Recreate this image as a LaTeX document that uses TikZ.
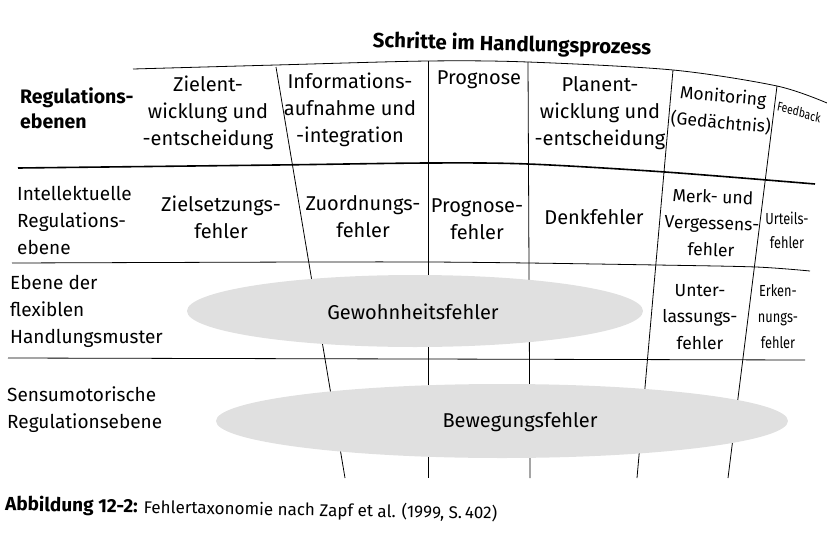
\documentclass[tikz,border=0pt]{standalone}
\usepackage{fontspec}
\setmainfont{Fira Sans}[Numbers=Lining]
\begin{document}
\begin{tikzpicture}[x=1pt, y=-1pt,
    txt/.style={align=center, inner sep=0pt, font=\fontsize{20}{27}\selectfont},
    mittel/.style={align=center, inner sep=0pt, font=\fontsize{17.5}{26.5}\selectfont},
    klein/.style={align=center, inner sep=0pt, xscale=0.8, font=\fontsize{16}{26}\selectfont},
    lft/.style={align=left, anchor=west, inner sep=0pt, font=\fontsize{19}{27}\selectfont},
    linie/.style={line width=0.8pt},
    blase/.style={fill=black!12, draw=none}]

    \useasboundingbox (0,0) rectangle (827,554);

    % Ueberschrift
    \node[font=\bfseries\fontsize{20.5}{24}\selectfont, rotate=-1.5] (titel) at (512,45) {Schritte im Handlungsprozess};

    % Zeilen (Seite gewoelbt, daher gebogen)
    \draw[linie] plot[smooth] coordinates {(133,69) (276,65) (428,61) (528,62) (673,70) (777,86) (827,103)};
    \draw[line width=1.6pt] plot[smooth] coordinates {(18,168) (276,165) (428,163) (528,164) (665,172) (815,184)};
    \draw[linie] plot[smooth] coordinates {(12,263) (310,262) (428,262) (528,263) (657,265) (756,267) (810,271)};
    \draw[linie] plot[smooth] coordinates {(8,358) (420,359) (805,360)};

    % Spalten
    \draw[linie] (276,67) -- (345,478);
    \draw[linie] (428,61) -- (428,478);
    \draw[linie] (528,62) -- (530,478);
    \draw[linie] (673,70) -- (637,478);
    \draw[linie] (777,86) -- (728,478);

    % Ellipsen ueber mehrere Spalten
    \fill[blase] (415,311) ellipse [x radius=228, y radius=36];
    \fill[blase] (502,421) ellipse [x radius=286, y radius=37];

    % Kopfzeile
    \node[lft, font=\bfseries\fontsize{19.5}{25}\selectfont] (ebenen) at (20,108) {Regulations-\\ebenen};
    \node[txt] (zielent) at (208,113) {Zielent-\\wicklung und\\-entscheidung};
    \node[txt] (info) at (350,110) {Informations-\\aufnahme und\\-integration};
    \node[txt] (prognose) at (479,80) {Prognose};
    \node[txt] (planent) at (600,113) {Planent-\\wicklung und\\-entscheidung};
    \node[mittel, rotate=-5] (monitoring) at (722,110) {Monitoring\\(Gedächtnis)};
    \node[klein, font=\fontsize{13}{16}\selectfont, rotate=-13] (feedback) at (799,112) {Feedback};

    % Intellektuelle Ebene
    \node[lft] (intellekt) at (17,220) {Intellektuelle\\Regulations-\\ebene};
    \node[txt] (zielsetzung) at (221,217) {Zielsetzungs-\\fehler};
    \node[txt] (zuordnung) at (363,217) {Zuordnungs-\\fehler};
    \node[txt] (prognosefehler) at (477,219) {Prognose-\\fehler};
    \node[txt] (denk) at (594,217) {Denkfehler};
    \node[mittel, rotate=-2] (merk) at (712,223) {Merk- und\\Vergessens-\\fehler};
    \node[klein, font=\fontsize{16}{24}\selectfont] (urteil) at (787,230) {Urteils-\\fehler};

    % Flexible Handlungsmuster
    \node[lft] (flexibel) at (10,311) {Ebene der\\flexiblen\\Handlungsmuster};
    \node[txt] (gewohnheit) at (413,312) {Gewohnheitsfehler};
    \node[mittel] (unterlassung) at (700,317) {Unter-\\lassungs-\\fehler};
    \node[klein] (erkennung) at (778,317) {Erken-\\nungs-\\fehler};

    % Sensumotorische Ebene
    \node[lft] (sensu) at (7,410) {Sensumotorische\\Regulationsebene};
    \node[txt] (bewegung) at (520,422) {Bewegungsfehler};

    % Bildunterschrift
    \node[anchor=west, inner sep=0pt, rotate=-1, font=\fontsize{17}{20}\selectfont] (unterschrift) at (5,505) {{\bfseries\fontsize{19}{20}\selectfont Abbildung 12-2:} Fehlertaxonomie nach Zapf et al. (1999, S.\,402)};

\end{tikzpicture}
\end{document}
